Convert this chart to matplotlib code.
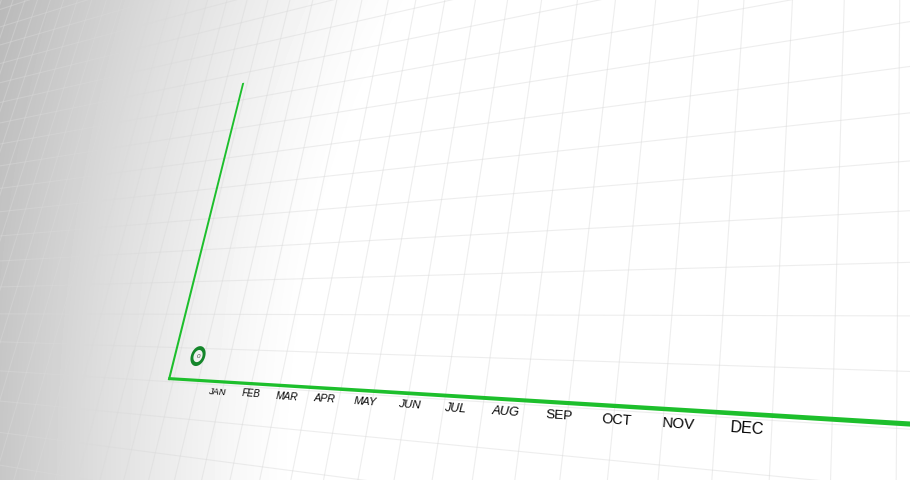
import numpy as np
import matplotlib
matplotlib.use('Agg')
import matplotlib.pyplot as plt
import matplotlib.transforms as mtransforms
from matplotlib.path import Path
from matplotlib.patches import PathPatch, Polygon
from matplotlib.collections import LineCollection

# chart data
months = ['JAN', 'FEB', 'MAR', 'APR', 'MAY', 'JUN', 'JUL', 'AUG', 'SEP', 'OCT', 'NOV', 'DEC']
month_pos = np.arange(1, 13)
start_label = '0'
start_x = 0.15
start_y = 0.55

# chart ranges (plane units, one unit = one month)
x_min = -0.6
x_max = 16.0
y_max = 7.63
grid_step = 0.8
grid_u0 = 0.35
grid_v0 = -0.071

# the chart lies on a tilted plane: homography plane -> image pixels
LAM = 0.014595
H = np.array([[25.749, 919 * LAM, 187.51],
              [-8.723, -2617 * LAM, 379.73],
              [-0.027975, LAM, 1.0]])


class PlaneToScreen(mtransforms.Transform):
    input_dims = 2
    output_dims = 2

    def __init__(self, H):
        super().__init__()
        self.H = H

    def transform_non_affine(self, values):
        values = np.asarray(values, dtype=float).reshape(-1, 2)
        pts = np.column_stack([values, np.ones(len(values))]) @ self.H.T
        return pts[:, :2] / pts[:, 2:]


fig = plt.figure(figsize=(9.1, 4.8), dpi=100)
ax = fig.add_axes([0, 0, 1, 1])
ax.set_autoscale_on(False)
ax.set_xlim(0, 910)
ax.set_ylim(480, 0)
ax.axis('off')
persp = PlaneToScreen(H) + ax.transData

# grey vignette on the left
yy, xx = np.mgrid[0:480, 0:910] + 0.5
d = np.hypot(xx - 700, 0.6 * (yy - 480))
t = np.clip((d - 400) / 360, 0, 1)
shade = 1 - 0.28 * t ** 1.3
ax.imshow(shade, cmap='gray', vmin=0, vmax=1, extent=(0, 910, 480, 0),
          interpolation='bilinear', aspect='auto', zorder=0)

# background grid on the same plane
gu = grid_u0 + grid_step * np.arange(-75, 22)
gv = grid_v0 + grid_step * np.arange(-15, 42)
segs = [[(u, gv[0]), (u, gv[-1])] for u in gu]
segs += [[(gu[0], v), (gu[-1], v)] for v in gv]
ax.add_collection(LineCollection(segs, colors='#d9d9d9', alpha=0.45, linewidths=0.8,
                                 transform=persp, zorder=1))

# axes lines
w = 0.07
green = '#1dbf2c'
ax.add_patch(Polygon([(x_min - w / 2, -w / 2), (x_max, -w / 2), (x_max, w / 2), (x_min - w / 2, w / 2)],
                     closed=True, facecolor=green, edgecolor='none', transform=persp, zorder=3))
ax.add_patch(Polygon([(x_min - w / 2, -w / 2), (x_min + w / 2, -w / 2), (x_min + w / 2, y_max), (x_min - w / 2, y_max)],
                     closed=True, facecolor=green, edgecolor='none', transform=persp, zorder=3))

ax.set_xlim(0, 910)
ax.set_ylim(480, 0)

# month labels, sized and turned with the plane
lab_v = -0.22
for u, m in zip(month_pos, months):
    p = persp.transform([[u - 0.5, lab_v], [u + 0.5, lab_v], [u, lab_v - 0.5], [u, lab_v + 0.5]])
    du = p[1] - p[0]
    dv = p[3] - p[2]
    angle = np.degrees(np.arctan2(du[1], du[0]))
    fs = 0.168 * np.sqrt(np.hypot(*du) * np.hypot(*dv))
    shear = dv[0] / dv[1]
    ax.text(u, lab_v, m, transform=persp, ha='center', va='center',
            rotation=angle, rotation_mode='anchor', fontsize=fs,
            family='Liberation Sans', style='italic' if shear > 0.125 else 'normal',
            color='#050505', zorder=5)

# starting point ring with its "0"
th = np.linspace(0, 2 * np.pi, 120)
r_out, r_in = 0.23, 0.14
outer = np.column_stack([start_x + r_out * np.cos(th), start_y + r_out * np.sin(th)])
inner = np.column_stack([start_x + r_in * np.cos(th[::-1]), start_y + r_in * np.sin(th[::-1])])
codes = [Path.MOVETO] + [Path.LINETO] * (len(th) - 2) + [Path.CLOSEPOLY]
ring = Path(np.vstack([outer, inner]), codes + codes)
ax.add_patch(PathPatch(ring, facecolor='#14862a', edgecolor='none', transform=persp, zorder=4))
ax.text(start_x, start_y, start_label, transform=persp, ha='center', va='center',
        fontsize=4.5, style='italic', family='Liberation Sans', color='#444444', zorder=5)

plt.savefig('out.png', dpi=100)
plt.close()
